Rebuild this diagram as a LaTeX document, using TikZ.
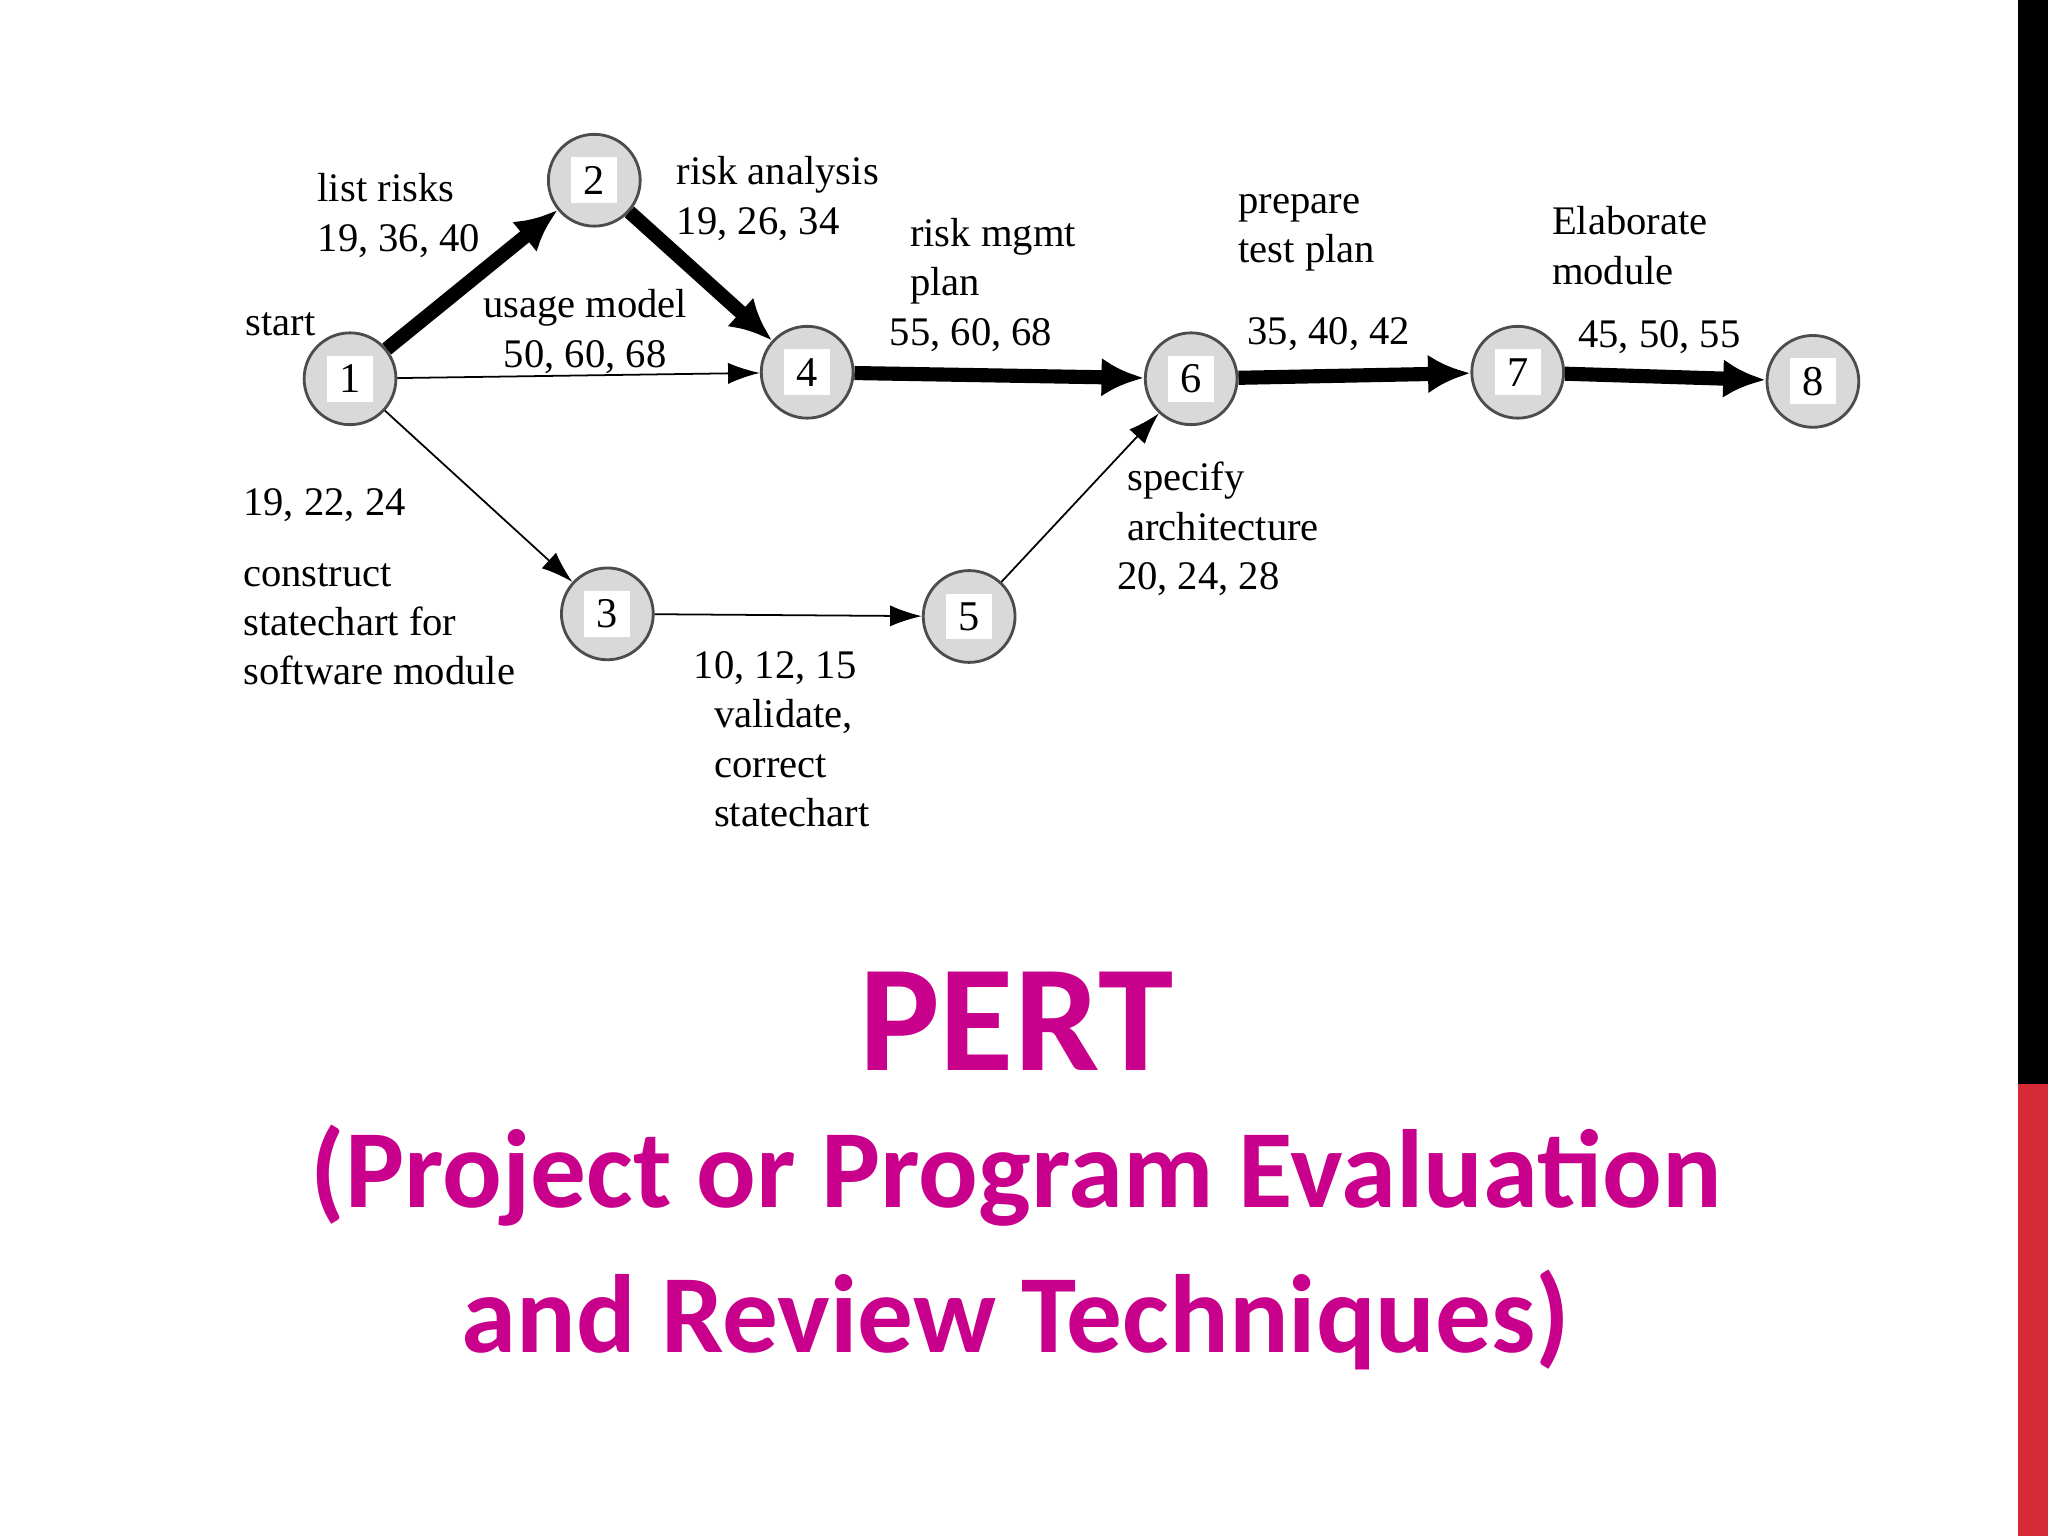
\documentclass[tikz,border=0pt]{standalone}
\usepackage{fontspec}
\setmainfont{Liberation Serif}
\newfontfamily\titlefont{Carlito}
\usetikzlibrary{arrows.meta}
\definecolor{mag}{RGB}{200,0,140}
\definecolor{barred}{RGB}{214,42,54}
\begin{document}
\begin{tikzpicture}[x=0.013cm,y=-0.013cm,
  ev/.style={circle,draw=black!70,fill=black!15,minimum size=26pt,inner sep=0pt,line width=0.8pt},
  sq/.style={fill=white,minimum size=13pt,inner sep=0pt,font=\fontsize{12}{12}\selectfont},
  lbl/.style={font=\fontsize{11.5}{14}\selectfont,align=left,inner sep=1pt},
  thin/.style={-{Latex[length=9pt,width=6pt]},line width=0.5pt},
  fat/.style={-{Latex[length=12pt,width=11pt]},line width=4pt}]
\useasboundingbox (0,0) rectangle (1568,1176);
\fill[white] (0,0) rectangle (1568,1176);
\fill[black] (1545,0) rectangle (1568,830);
\fill[barred] (1545,830) rectangle (1568,1176);
\foreach \n/\x/\y in {1/268/290,2/455/138,3/465/470,4/618/285,5/742/472,6/912/290,7/1162/285,8/1388/292}{
  \node[ev] (n\n) at (\x,\y) {};
  \node[sq] at (\x,\y) {\n};
}
\draw[fat] (n1) -- (n2);
\draw[fat] (n2) -- (n4);
\draw[thin] (n1) -- (n4);
\draw[thin] (n1) -- (n3);
\draw[thin] (n3) -- (n5);
\draw[thin] (n5) -- (n6);
\draw[fat] (n4) -- (n6);
\draw[fat] (n6) -- (n7);
\draw[fat] (n7) -- (n8);
\node[lbl,anchor=west] (t1) at (240,165) {list risks\\19, 36, 40};
\node[lbl,anchor=west] (t2) at (185,248) {start};
\node[lbl,anchor=west] (t3) at (515,152) {risk analysis\\19, 26, 34};
\node[lbl,align=center] (t4) at (448,254) {usage model\\50, 60, 68};
\node[lbl,anchor=west] (t5) at (678,218) {\ \ risk mgmt\\\ \ plan\\55, 60, 68};
\node[lbl,anchor=west] (t6) at (945,178) {prepare\\test plan};
\node[lbl,anchor=west] (t7) at (952,256) {35, 40, 42};
\node[lbl,anchor=west] (t8) at (1185,188) {Elaborate\\module};
\node[lbl,anchor=west] (t9) at (1205,258) {45, 50, 55};
\node[lbl,anchor=west] (t10) at (183,387) {19, 22, 24};
\node[lbl,anchor=west] (t11) at (183,478) {construct\\statechart for\\software module};
\node[lbl,anchor=west] (t12) at (528,566) {10, 12, 15\\\ \ validate,\\\ \ correct\\\ \ statechart};
\node[lbl,anchor=west] (t13) at (852,405) {\ specify\\\ architecture\\20, 24, 28};
\node[font=\titlefont\bfseries\fontsize{43}{43}\selectfont,text=mag] (title) at (778,782) {PERT};
\node[font=\titlefont\bfseries\fontsize{31.5}{41}\selectfont,text=mag,align=center] (sub) at (778,955) {(Project or Program Evaluation\\and Review Techniques)};
\end{tikzpicture}
\end{document}
